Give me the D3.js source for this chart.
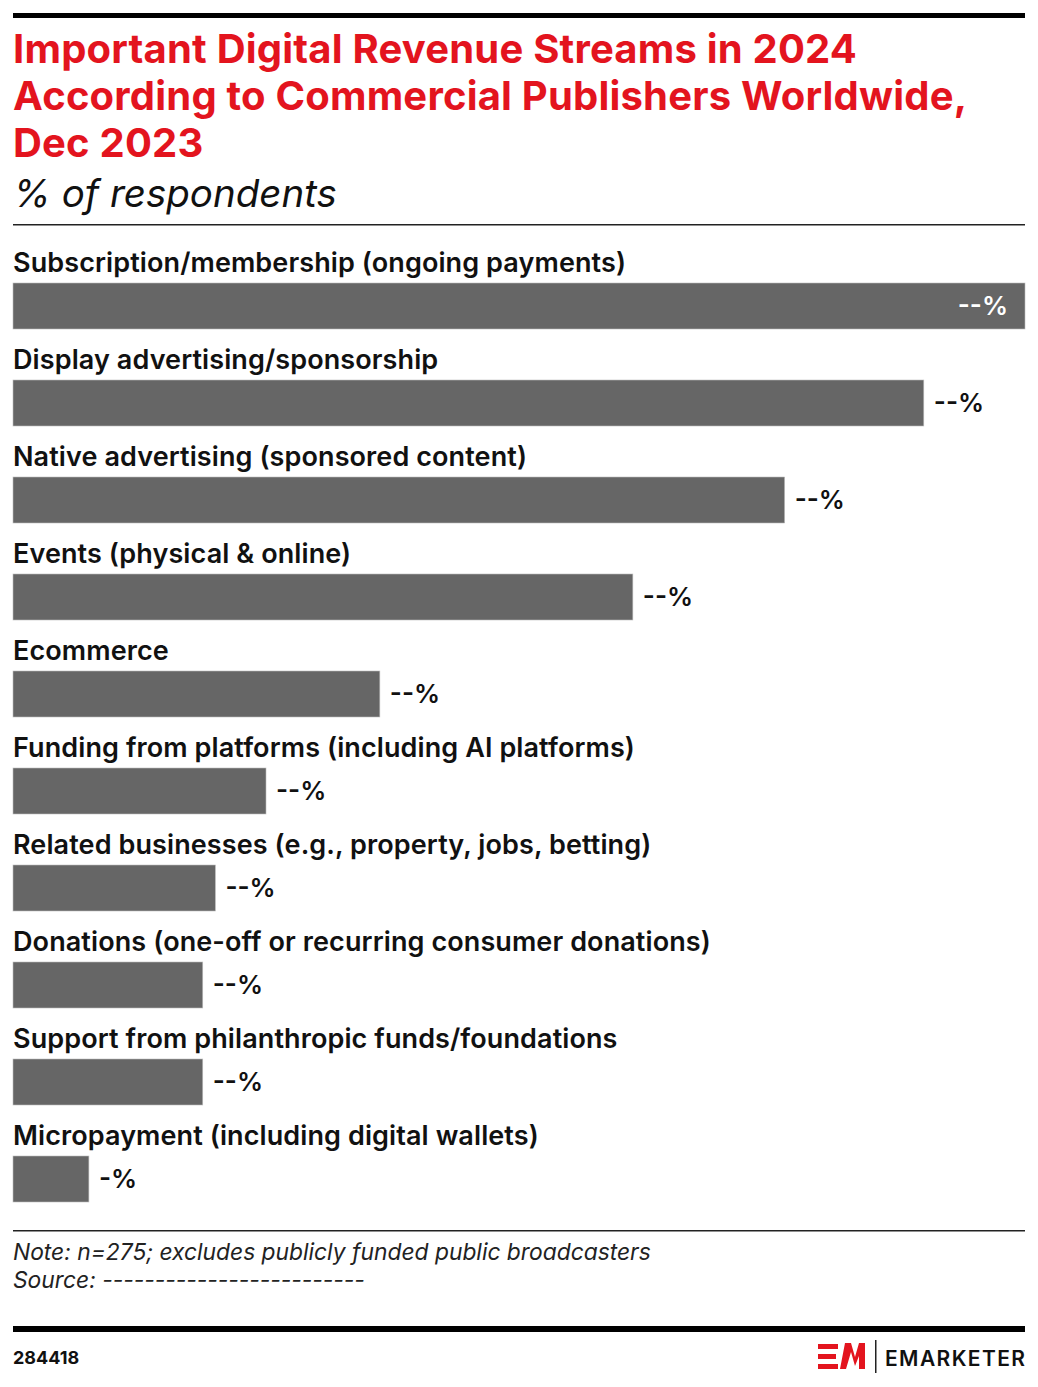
<!DOCTYPE html>
<html><head><meta charset="utf-8">
<script src="https://cdn.jsdelivr.net/npm/d3@7"></script>
<style>
html,body{margin:0;padding:0;background:#fff;}
svg{display:block;}
text{font-family:Inter,"Noto Sans",sans-serif;}
</style></head>
<body>
<svg id="chart" width="1038" height="1387"></svg>
<script>
const categories = [
  "Subscription/membership (ongoing payments)",
  "Display advertising/sponsorship",
  "Native advertising (sponsored content)",
  "Events (physical & online)",
  "Ecommerce",
  "Funding from platforms (including AI platforms)",
  "Related businesses (e.g., property, jobs, betting)",
  "Donations (one-off or recurring consumer donations)",
  "Support from philanthropic funds/foundations",
  "Micropayment (including digital wallets)"
];
const values = [80, 72, 61, 49, 29, 20, 16, 15, 15, 6];
const valueLabels = ["--%", "--%", "--%", "--%", "--%", "--%", "--%", "--%", "--%", "-%"];
const titleLines = [
  "Important Digital Revenue Streams in 2024",
  "According to Commercial Publishers Worldwide,",
  "Dec 2023"
];
const subtitle = "% of respondents";
const noteLines = [
  "Note: n=275; excludes publicly funded public broadcasters",
  "Source: -------------------------"
];
const chartId = "284418";

const svg = d3.select("#chart");
const L = 13, R = 1025;
const red = "#e3141e";

// top rule
svg.append("rect").attr("x", L).attr("y", 13).attr("width", R - L).attr("height", 5).attr("fill", "#000");

// title
svg.append("g").selectAll("text").data(titleLines).join("text")
  .attr("x", L).attr("y", (d, i) => 63 + i * 47)
  .attr("fill", red).attr("font-size", 40).attr("font-weight", 700)
  .attr("letter-spacing", 0.2)
  .text(d => d);

svg.append("text").attr("x", L).attr("y", 207)
  .attr("font-size", 38.5).attr("font-style", "italic").attr("fill", "#111")
  .text(subtitle);

svg.append("rect").attr("x", L).attr("y", 224).attr("width", R - L).attr("height", 1.5).attr("fill", "#222");

// scales
const x = d3.scaleLinear().domain([0, d3.max(values)]).range([L, R]);
const y = d3.scaleBand().domain(categories).range([240, 240 + 97 * categories.length]).paddingInner(0);
const barOff = 43, barH = 46;

const rows = svg.append("g").selectAll("g").data(categories).join("g");

rows.append("text")
  .attr("x", L).attr("y", d => y(d) + 32)
  .attr("font-size", 27).attr("font-weight", 600).attr("fill", "#111")
  .attr("letter-spacing", 0.1)
  .text(d => d);

rows.append("rect")
  .attr("x", x(0)).attr("y", d => y(d) + barOff)
  .attr("width", (d, i) => x(values[i]) - x(0)).attr("height", barH)
  .attr("fill", "#666666").attr("stroke", "#bdbdbd").attr("stroke-width", 0.6);

const maxV = d3.max(values);
rows.append("text")
  .attr("x", (d, i) => values[i] === maxV ? x(values[i]) - 17 : x(values[i]) + 10)
  .attr("y", d => y(d) + barOff + barH / 2 + 9)
  .attr("text-anchor", (d, i) => values[i] === maxV ? "end" : "start")
  .attr("font-size", 26).attr("font-weight", 600)
  .attr("fill", (d, i) => values[i] === maxV ? "#fff" : "#111")
  .text((d, i) => valueLabels[i]);

// bottom note
svg.append("rect").attr("x", L).attr("y", 1230).attr("width", R - L).attr("height", 1.5).attr("fill", "#222");
svg.append("g").selectAll("text").data(noteLines).join("text")
  .attr("x", L).attr("y", (d, i) => 1260 + i * 28)
  .attr("font-size", 22.8).attr("font-style", "italic").attr("fill", "#222")
  .text(d => d);

svg.append("rect").attr("x", L).attr("y", 1326).attr("width", R - L).attr("height", 6).attr("fill", "#000");
svg.append("text").attr("x", L).attr("y", 1364).attr("font-size", 18).attr("font-weight", 700).attr("fill", "#111").text(chartId);

// logo
const logo = svg.append("g");
// E
logo.append("rect").attr("x", 818).attr("y", 1344).attr("width", 20).attr("height", 5).attr("fill", red);
logo.append("rect").attr("x", 818).attr("y", 1354).attr("width", 18).attr("height", 5).attr("fill", red);
logo.append("rect").attr("x", 818).attr("y", 1364).attr("width", 20).attr("height", 5).attr("fill", red);
// M
logo.append("path").attr("d", "M840,1369 L845,1343 L851,1343 L855,1357 L859,1343 L865,1343 L865,1369 L859,1369 L859,1356 L855,1366 L851,1352 L846,1369 Z").attr("fill", red);
logo.append("rect").attr("x", 875).attr("y", 1340).attr("width", 1.5).attr("height", 33).attr("fill", "#222");
logo.append("text").attr("x", 885).attr("y", 1366).attr("font-size", 21).attr("font-weight", 600)
  .attr("letter-spacing", 1.4).attr("fill", "#111").text("EMARKETER");
</script>
</body></html>
